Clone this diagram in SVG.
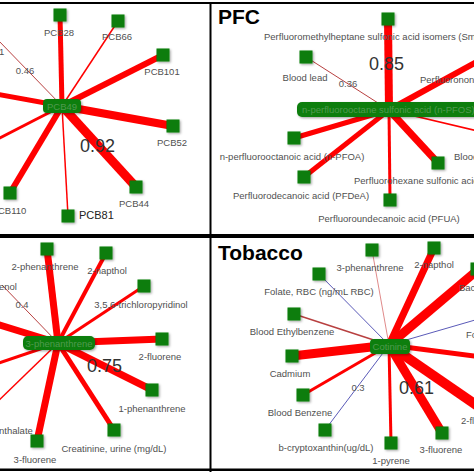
<svg xmlns="http://www.w3.org/2000/svg" width="474" height="474" viewBox="0 0 474 474">
<style>
.bg{fill:#ffffff}
.e{stroke:#ff0000;fill:none;stroke-linecap:butt}
.thin{stroke:#b84040}
.blue{stroke:#5a5ab8}
.pink{stroke:#e08a8a}
.n{fill:#0a7d0a;filter:url(#sh)}
.hub{fill:#0e7e0e;filter:url(#sh)}
.hl{font-family:"Liberation Sans",Arial,sans-serif;font-size:9.5px;fill:#4f9a4f}
.l{font-family:"Liberation Sans",Arial,sans-serif;font-size:9.5px;fill:#505050}
.c{text-anchor:middle}
.big{font-family:"Liberation Sans",Arial,sans-serif;font-size:18px;fill:#333333}
.w{font-family:"Liberation Sans",Arial,sans-serif;font-size:9.5px;fill:#555555;text-anchor:middle}
.t{font-family:"Liberation Sans",Arial,sans-serif;font-size:21px;font-weight:bold;fill:#000000}
.b{fill:#000000}
</style>
<defs>
<filter id="sh" x="-30%" y="-30%" width="170%" height="170%">
<feDropShadow dx="1.2" dy="1.2" stdDeviation="1" flood-color="#000" flood-opacity="0.35"/>
</filter>
</defs>
<rect class="bg" x="0" y="0" width="474" height="474"/>

<g id="connectors">
<line class="e" x1="62" y1="106" x2="60" y2="15" stroke-width="5"/>
<line class="e" x1="62" y1="106" x2="118" y2="21" stroke-width="1.5"/>
<line class="e" x1="62" y1="106" x2="163" y2="55" stroke-width="6"/>
<line class="e" x1="62" y1="106" x2="173" y2="126" stroke-width="8"/>
<line class="e" x1="62" y1="106" x2="136" y2="187" stroke-width="9"/>
<line class="e" x1="62" y1="106" x2="68" y2="216" stroke-width="1.5"/>
<line class="e" x1="62" y1="106" x2="10" y2="193" stroke-width="6"/>
<line class="e" x1="62" y1="106" x2="-10" y2="93" stroke-width="5"/>
<line class="e" x1="62" y1="106" x2="-10" y2="143" stroke-width="3"/>
<line class="e thin" x1="62" y1="106" x2="-2" y2="40" stroke-width="1"/>
<line class="e" x1="389" y1="110" x2="388" y2="19" stroke-width="8"/>
<line class="e thin" x1="389" y1="110" x2="306" y2="57" stroke-width="1"/>
<line class="e" x1="389" y1="110" x2="482" y2="59" stroke-width="6"/>
<line class="e" x1="389" y1="110" x2="482" y2="132" stroke-width="1.5"/>
<line class="e" x1="389" y1="110" x2="438" y2="163" stroke-width="7"/>
<line class="e" x1="389" y1="110" x2="390" y2="200" stroke-width="3"/>
<line class="e" x1="389" y1="110" x2="304" y2="177" stroke-width="5"/>
<line class="e" x1="389" y1="110" x2="294" y2="138" stroke-width="5"/>
<line class="e" x1="58" y1="343" x2="47" y2="249" stroke-width="7"/>
<line class="e" x1="58" y1="343" x2="106" y2="253" stroke-width="4"/>
<line class="e" x1="58" y1="343" x2="144" y2="286" stroke-width="3"/>
<line class="e" x1="58" y1="343" x2="162" y2="339" stroke-width="7"/>
<line class="e" x1="58" y1="343" x2="152" y2="390" stroke-width="7"/>
<line class="e" x1="58" y1="343" x2="114" y2="430" stroke-width="5"/>
<line class="e" x1="58" y1="343" x2="37" y2="441" stroke-width="7"/>
<line class="e thin" x1="58" y1="343" x2="2" y2="285" stroke-width="1"/>
<line class="e" x1="58" y1="343" x2="-10" y2="322" stroke-width="7"/>
<line class="e" x1="58" y1="343" x2="-10" y2="366" stroke-width="3"/>
<line class="e" x1="58" y1="343" x2="-6" y2="405" stroke-width="1.5"/>
<line class="e pink" x1="389" y1="345" x2="372" y2="250" stroke-width="1"/>
<line class="e" x1="389" y1="345" x2="434" y2="248" stroke-width="7"/>
<line class="e" x1="389" y1="345" x2="480" y2="268" stroke-width="9"/>
<line class="e blue" x1="389" y1="345" x2="319" y2="274" stroke-width="1"/>
<line class="e thin" x1="389" y1="345" x2="294" y2="314" stroke-width="1.5"/>
<line class="e" x1="389" y1="345" x2="292" y2="356" stroke-width="9"/>
<line class="e" x1="389" y1="345" x2="303" y2="395" stroke-width="3"/>
<line class="e blue" x1="389" y1="345" x2="325" y2="430" stroke-width="1"/>
<line class="e" x1="389" y1="345" x2="391" y2="443" stroke-width="3"/>
<line class="e" x1="389" y1="345" x2="442" y2="433" stroke-width="9"/>
<line class="e" x1="389" y1="345" x2="482" y2="409" stroke-width="10"/>
<line class="e" x1="389" y1="345" x2="482" y2="357" stroke-width="5"/>
<line class="e blue" x1="389" y1="345" x2="482" y2="318" stroke-width="1"/>
</g>

<g id="edge-labels">
<text class="w" x="25" y="74">0.46</text>
<text class="big" x="80" y="152">0.92</text>
<text class="w" x="348" y="87">0.36</text>
<text class="big" x="369" y="70">0.85</text>
<text class="w" x="22" y="308">0.4</text>
<text class="big" x="87" y="372">0.75</text>
<text class="w" x="358" y="391">0.3</text>
<text class="big" x="399" y="394">0.61</text>
</g>

<g id="node-pcb49"><rect class="hub" x="43" y="99" width="38" height="14" rx="4"/><text class="hl c" x="62" y="109.5">PCB49</text></g>
<g id="node-pcb28"><rect class="n" x="53.5" y="8.5" width="13" height="13"/><text class="l c" x="59" y="36">PCB28</text></g>
<g id="node-pcb66"><rect class="n" x="111.5" y="14.5" width="13" height="13"/><text class="l c" x="117" y="40">PCB66</text></g>
<g id="node-pcb101"><rect class="n" x="156.5" y="48.5" width="13" height="13"/><text class="l c" x="162" y="75">PCB101</text></g>
<g id="node-pcb52"><rect class="n" x="166.5" y="119.5" width="13" height="13"/><text class="l c" x="172" y="146">PCB52</text></g>
<g id="node-pcb44"><rect class="n" x="129.5" y="180.5" width="13" height="13"/><text class="l c" x="134" y="207">PCB44</text></g>
<g id="node-pcb81"><rect class="n" x="61.5" y="209.5" width="13" height="13"/><text x="79" y="219" style="font-family:'Liberation Sans',Arial,sans-serif;font-size:11px;fill:#222">PCB81</text></g>
<g id="node-pcb110"><rect class="n" x="3.5" y="186.5" width="13" height="13"/><text class="l c" x="9" y="214">PCB110</text></g>
<g id="node-pcb-left"><text class="l" x="-1" y="55">1</text></g>

<g id="node-pfos"><rect class="hub" x="297" y="102" width="190" height="15" rx="5"/><text class="hl" x="302" y="113">n-perfluorooctane sulfonic acid (n-PFOS)</text></g>
<g id="node-smpfos"><rect class="n" x="381.5" y="12.5" width="13" height="13"/><text class="l" x="264" y="40">Perfluoromethylheptane sulfonic acid isomers (Sm-PFOS)</text></g>
<g id="node-bloodlead"><rect class="n" x="299.5" y="50.5" width="13" height="13"/><text class="l c" x="305" y="81">Blood lead</text></g>
<g id="node-pfna"><text class="l" x="420" y="83">Perfluorononanoic acid (PFNA)</text></g>
<g id="node-blood2"><text class="l" x="454" y="160">Blood</text></g>
<g id="node-pfoa"><rect class="n" x="287.5" y="131.5" width="13" height="13"/><text class="l c" x="292" y="160">n-perfluorooctanoic acid (n-PFOA)</text></g>
<g id="node-pfhxs"><rect class="n" x="431.5" y="156.5" width="13" height="13"/><text class="l" x="354" y="184">Perfluorohexane sulfonic acid (PFHxS)</text></g>
<g id="node-pfdea"><rect class="n" x="297.5" y="170.5" width="13" height="13"/><text class="l c" x="301" y="198.5">Perfluorodecanoic acid (PFDeA)</text></g>
<g id="node-pfua"><rect class="n" x="383.5" y="193.5" width="13" height="13"/><text class="l c" x="389" y="222">Perfluoroundecanoic acid (PFUA)</text></g>

<g id="node-3phen"><rect class="hub" x="23" y="336" width="72" height="14" rx="5"/><text class="hl c" x="59" y="346.5">3-phenanthrene</text></g>
<g id="node-2phen"><rect class="n" x="40.5" y="242.5" width="13" height="13"/><text class="l c" x="45" y="269.5">2-phenanthrene</text></g>
<g id="node-2nap"><rect class="n" x="99.5" y="246.5" width="13" height="13"/><text class="l c" x="107" y="273.5">2-napthol</text></g>
<g id="node-tcp"><rect class="n" x="137.5" y="279.5" width="13" height="13"/><text class="l c" x="141" y="307.5">3,5,6-trichloropyridinol</text></g>
<g id="node-2fl"><rect class="n" x="155.5" y="332.5" width="13" height="13"/><text class="l c" x="160" y="359.5">2-fluorene</text></g>
<g id="node-1phen"><rect class="n" x="145.5" y="383.5" width="13" height="13"/><text class="l c" x="152" y="411.5">1-phenanthrene</text></g>
<g id="node-creat"><rect class="n" x="107.5" y="423.5" width="13" height="13"/><text class="l c" x="114" y="451.5">Creatinine, urine (mg/dL)</text></g>
<g id="node-3fl"><rect class="n" x="30.5" y="434.5" width="13" height="13"/><text class="l c" x="35" y="462.5">3-fluorene</text></g>
<g id="node-phth"><text class="l" x="-1" y="433.5">nthalate</text></g>
<g id="node-enol"><text class="l" x="-1" y="289.5">enol</text></g>

<g id="node-cotinine"><rect class="hub" x="370" y="339" width="40" height="15" rx="4"/><text class="hl c" x="390" y="349.5">Cotinine</text></g>
<g id="node-t3phen"><rect class="n" x="365.5" y="243.5" width="13" height="13"/><text class="l c" x="370" y="270.5">3-phenanthrene</text></g>
<g id="node-t2nap"><rect class="n" x="427.5" y="241.5" width="13" height="13"/><text class="l c" x="434" y="267.5">2-napthol</text></g>
<g id="node-tbac"><rect class="n" x="470.5" y="262.5" width="13" height="13"/><text class="l" x="459" y="290.5">Bac</text></g>
<g id="node-folate"><rect class="n" x="312.5" y="267.5" width="13" height="13"/><text class="l c" x="319" y="294.5">Folate, RBC (ng/mL RBC)</text></g>
<g id="node-ethyl"><rect class="n" x="287.5" y="307.5" width="13" height="13"/><text class="l c" x="292" y="334.5">Blood Ethylbenzene</text></g>
<g id="node-cadmium"><rect class="n" x="285.5" y="349.5" width="13" height="13"/><text class="l c" x="290" y="376.5">Cadmium</text></g>
<g id="node-benzene"><rect class="n" x="296.5" y="388.5" width="13" height="13"/><text class="l c" x="300" y="415.5">Blood Benzene</text></g>
<g id="node-bcrypt"><rect class="n" x="318.5" y="423.5" width="13" height="13"/><text class="l c" x="326" y="450.5">b-cryptoxanthin(ug/dL)</text></g>
<g id="node-1pyr"><rect class="n" x="384.5" y="436.5" width="13" height="13"/><text class="l c" x="391" y="463.5">1-pyrene</text></g>
<g id="node-t3fl"><rect class="n" x="435.5" y="426.5" width="13" height="13"/><text class="l c" x="441" y="452.5">3-fluorene</text></g>
<g id="node-t2fl"><text class="l" x="461" y="423.5">2-fluorene</text></g>
<g id="node-tfo"><text class="l" x="466" y="337.5">Fo</text></g>

<g id="titles">
<text class="t" x="218" y="24">PFC</text>
<text class="t" x="218" y="260">Tobacco</text>
</g>

<g id="frame">
<rect class="b" x="0" y="2" width="474" height="2"/>
<rect class="b" x="209.5" y="2" width="2" height="470"/>
<rect class="b" x="0" y="234" width="474" height="4"/>
<rect class="b" x="0" y="468.5" width="474" height="2.5"/>
</g>
</svg>
